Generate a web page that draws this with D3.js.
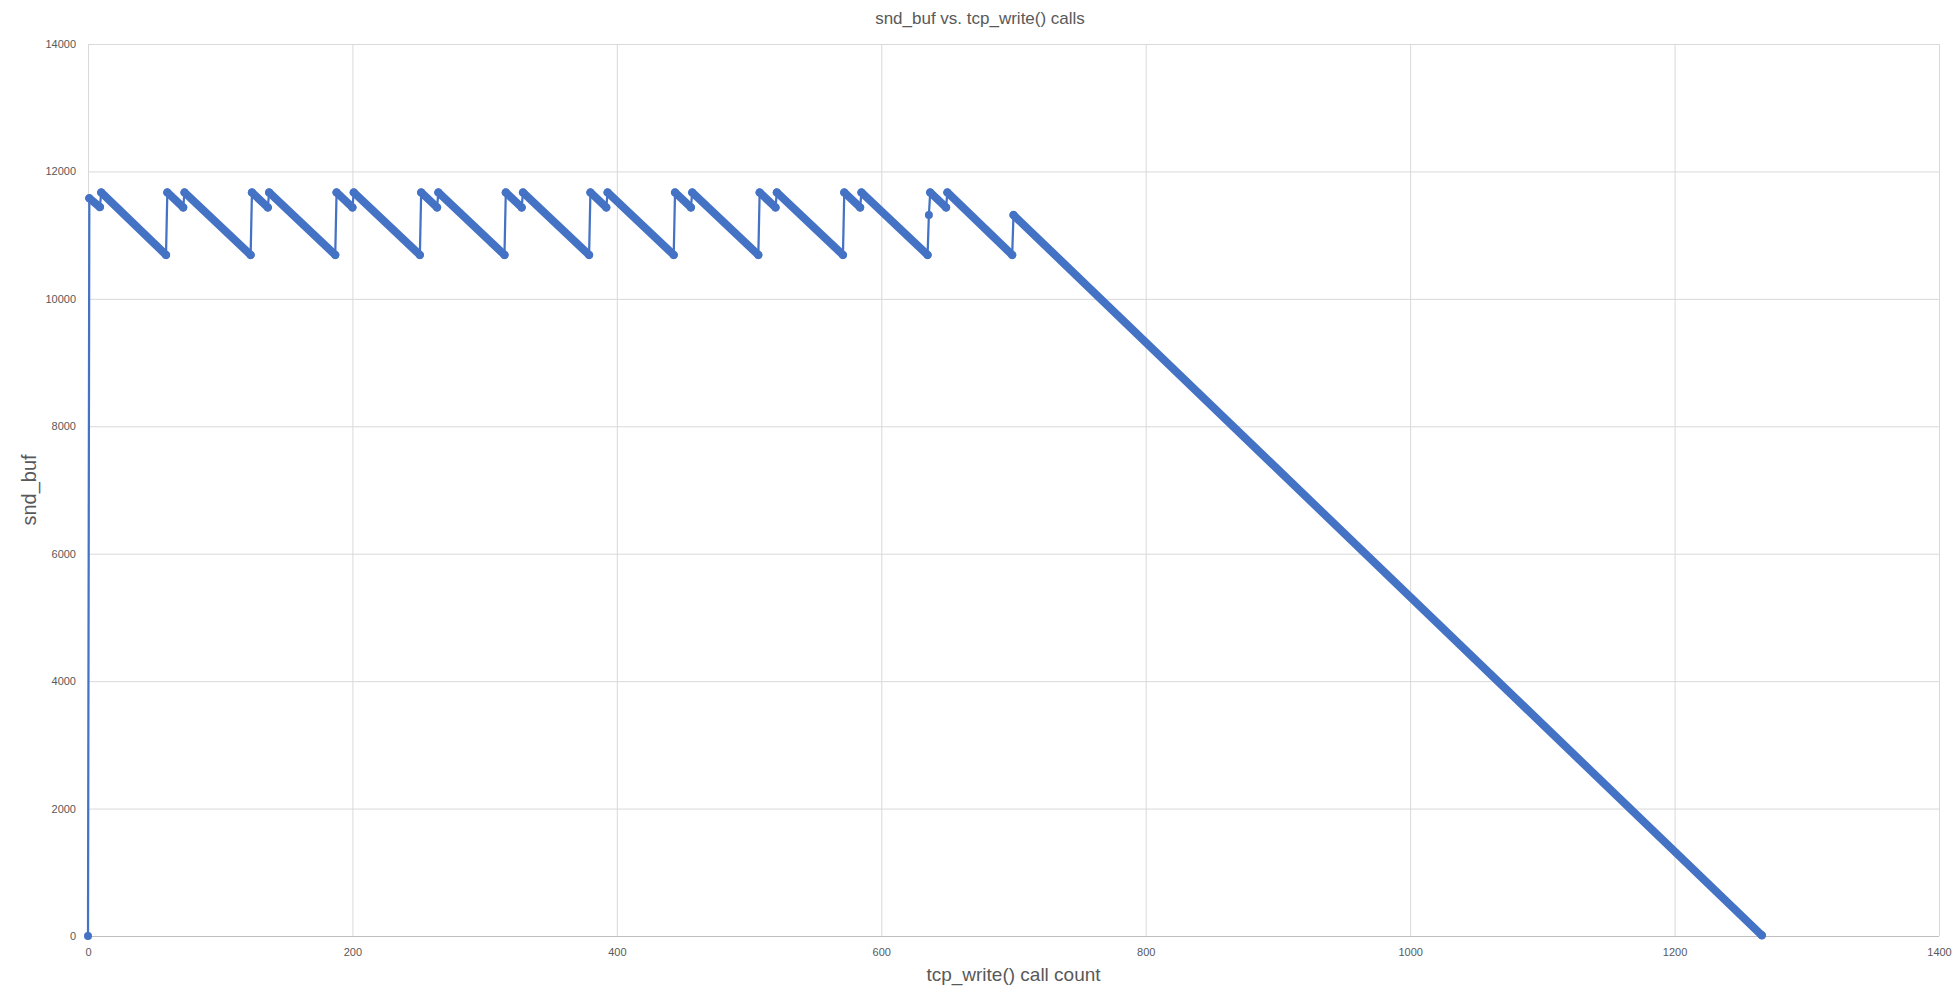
<!DOCTYPE html>
<html>
<head>
<meta charset="utf-8">
<script src="https://cdn.jsdelivr.net/npm/d3@7"></script>
<style>
  html, body { margin: 0; padding: 0; background: #ffffff; }
  svg { display: block; }
  text { font-family: "Liberation Sans", Arial, sans-serif; fill: #595959; }
</style>
</head>
<body>
<svg id="chart" width="1960" height="1004"></svg>
<script>
// ---- data (breakpoints of the snd_buf series) ----
const callCount = [
  0, 1, 9, 10, 59,
  60, 72, 73, 123,
  124, 136, 137, 187,
  188, 200, 201, 251,
  252, 264, 265, 315,
  316, 328, 329, 379,
  380, 392, 393, 443,
  444, 456, 457, 507,
  508, 520, 521, 571,
  572, 584, 585, 635,
  636, 637, 649, 650, 699,
  700, 1266
];
const sndBuf = [
  0, 11580, 11440, 11670, 10690,
  11670, 11435, 11670, 10690,
  11670, 11435, 11670, 10690,
  11670, 11435, 11670, 10690,
  11670, 11435, 11670, 10690,
  11670, 11435, 11670, 10690,
  11670, 11435, 11670, 10690,
  11670, 11435, 11670, 10690,
  11670, 11435, 11670, 10690,
  11670, 11435, 11670, 10690,
  11316, 11670, 11435, 11670, 10690,
  11316, 10
];
const xTicks = [0, 200, 400, 600, 800, 1000, 1200, 1400];
const yTicks = [0, 2000, 4000, 6000, 8000, 10000, 12000, 14000];
const chartTitle = "snd_buf vs. tcp_write() calls";
const xTitle = "tcp_write() call count";
const yTitle = "snd_buf";

// ---- layout ----
const svg = d3.select("#chart");
const mLeft = 88, mRight = 1939, mTop = 44, mBottom = 936;
const blue = "#4472C4";

const x = d3.scaleLinear().domain([0, 1400]).range([mLeft, mRight]);
const y = d3.scaleLinear().domain([0, 14000]).range([mBottom, mTop]);

const pts = callCount.map((c, i) => ({ x: c, y: sndBuf[i] }));

// gridlines
svg.append("g")
  .attr("transform", `translate(0,${mBottom})`)
  .call(d3.axisBottom(x).tickValues(xTicks).tickSize(-(mBottom - mTop)).tickFormat(""))
  .call(g => g.select(".domain").remove())
  .call(g => g.selectAll("line").attr("stroke", "#d9d9d9").attr("stroke-width", 1));
svg.append("g")
  .attr("transform", `translate(${mLeft},0)`)
  .call(d3.axisLeft(y).tickValues(yTicks).tickSize(-(mRight - mLeft)).tickFormat(""))
  .call(g => g.select(".domain").remove())
  .call(g => g.selectAll("line").attr("stroke", "#d9d9d9").attr("stroke-width", 1));

// bottom axis line
svg.append("line")
  .attr("x1", mLeft).attr("x2", mRight)
  .attr("y1", mBottom + 0.5).attr("y2", mBottom + 0.5)
  .attr("stroke", "#bfbfbf").attr("stroke-width", 1);

// tick labels
svg.append("g")
  .attr("transform", `translate(0,${mBottom})`)
  .call(d3.axisBottom(x).tickValues(xTicks).tickSize(0).tickPadding(12).tickFormat(d3.format("d")))
  .call(g => g.select(".domain").remove())
  .call(g => g.selectAll("text").attr("font-size", 11).attr("fill", "#595959")
    .attr("font-family", "Liberation Sans, Arial, sans-serif"));
svg.append("g")
  .attr("transform", `translate(${mLeft},0)`)
  .call(d3.axisLeft(y).tickValues(yTicks).tickSize(0).tickPadding(12).tickFormat(d3.format("d")))
  .call(g => g.select(".domain").remove())
  .call(g => g.selectAll("text").attr("font-size", 11).attr("fill", "#595959")
    .attr("font-family", "Liberation Sans, Arial, sans-serif"));

// thin connecting line through all points
const line = d3.line().x(d => x(d.x)).y(d => y(d.y));
svg.append("path")
  .datum(pts)
  .attr("d", line)
  .attr("fill", "none")
  .attr("stroke", blue)
  .attr("stroke-width", 2.25)
  .attr("stroke-linejoin", "round");

// dense runs of per-call markers (consecutive calls form a solid band)
const runs = [];
for (let i = 0; i < pts.length - 1; i++) {
  if (pts[i + 1].x - pts[i].x > 1) runs.push([pts[i], pts[i + 1]]);
}
svg.append("g").selectAll("path")
  .data(runs)
  .join("path")
  .attr("d", line)
  .attr("fill", "none")
  .attr("stroke", blue)
  .attr("stroke-width", 8)
  .attr("stroke-linecap", "round");

// markers at breakpoints
svg.append("g").selectAll("circle")
  .data(pts)
  .join("circle")
  .attr("cx", d => x(d.x))
  .attr("cy", d => y(d.y))
  .attr("r", 4)
  .attr("fill", blue);

// titles
svg.append("text")
  .attr("x", 980).attr("y", 23.5)
  .attr("text-anchor", "middle")
  .attr("font-size", 17)
  .text(chartTitle);
svg.append("text")
  .attr("x", (mLeft + mRight) / 2).attr("y", 981)
  .attr("text-anchor", "middle")
  .attr("font-size", 19)
  .text(xTitle);
svg.append("text")
  .attr("transform", `translate(36,${(mTop + mBottom) / 2}) rotate(-90)`)
  .attr("text-anchor", "middle")
  .attr("font-size", 20)
  .text(yTitle);
</script>
</body>
</html>
